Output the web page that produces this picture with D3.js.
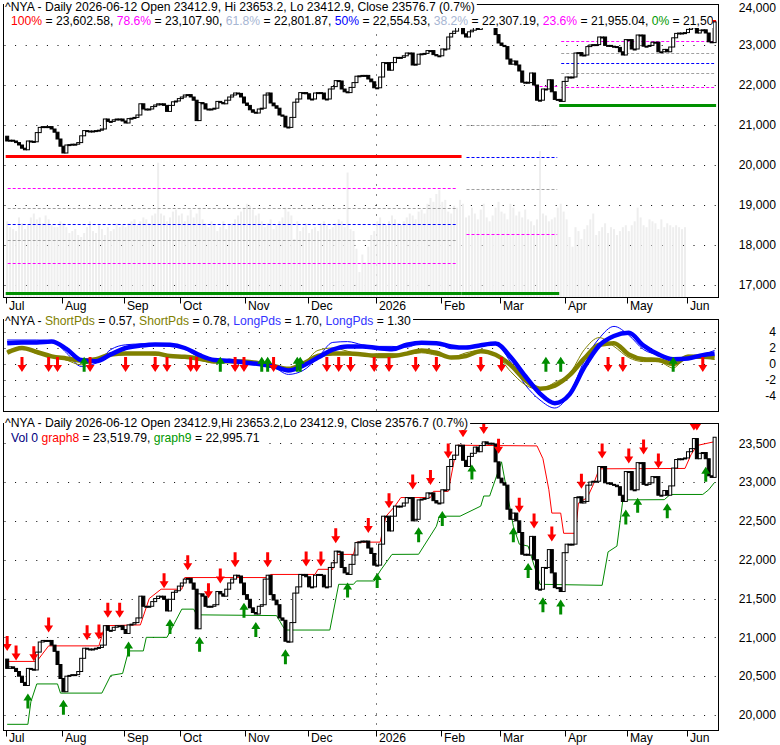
<!DOCTYPE html>
<html><head><meta charset="utf-8">
<script src="https://cdn.jsdelivr.net/npm/d3@7/dist/d3.min.js"></script>
<style>
body{margin:0;background:#fff;}
text{font-family:"Liberation Sans",Arial,sans-serif;}
</style>
</head><body>
<svg id="c" width="780" height="745" xmlns="http://www.w3.org/2000/svg"></svg>
<script>
// ---------------- DATA ----------------
const monthLabels = ["Jul","Aug","Sep","Oct","Nov","Dec","2026","Feb","Mar","Apr","May","Jun"];
const monthStarts = [0,19,40,59,81,102,125,147,167,189,210,230];
const firstOpen = 20720;
const closes = [
20600,20620,20600,20560,20500,20420,20380,20600,20590,20580,
20810,20940,20960,20960,20960,20900,20820,20650,20470,20300,
20500,20510,20520,20520,20560,20730,20860,20850,20840,20850,
20860,20870,20900,21150,21090,21090,21130,21150,21150,21100,
21050,21160,21170,21190,21250,21530,21400,21400,21400,21460,
21500,21530,21530,21490,21340,21490,21580,21600,21660,21700,
21750,21760,21700,21620,21110,21560,21530,21400,21400,21400,
21420,21590,21560,21530,21620,21700,21750,21800,21790,21700,
21550,21490,21380,21320,21300,21400,21420,21750,21800,21550,
21480,21420,21250,21220,20950,20940,21190,21570,21650,21810,
21810,21780,21650,21650,21800,21810,21800,21650,21650,21900,
21960,22110,22100,21900,21830,21810,21940,22060,22220,22230,
22240,22240,22150,22080,21930,21930,22200,22560,22560,22370,
22560,22690,22690,22690,22730,22800,22800,22500,22520,22770,
22780,22790,22860,22860,22760,22730,22730,22900,22900,23200,
23290,23346,23474,23474,23280,23200,23330,23370,23450,23390,
23470,23517,23490,23500,23490,23260,23050,22990,22960,22650,
22520,22600,22500,22350,22070,22070,22060,22300,22000,21620,
21620,21900,21900,22130,21830,21640,21640,21590,22090,22200,
22200,22200,22800,22810,22730,22750,22960,23000,23010,23010,
23200,23200,22990,22990,22970,22960,22940,22830,22750,23135,
23135,22900,22900,23250,23250,22970,22970,22990,23070,23070,
22830,22830,22890,22830,22950,23180,23290,23300,23300,23310,
23390,23430,23560,23300,23370,23380,23300,23080,23060,23576.7];
const volume = [
3.9,3.6,3.5,3.4,4.1,3.8,3.5,3.7,4.1,4.3,4.0,4.1,3.8,4.2,4.0,3.7,3.6,3.6,3.9,
3.8,3.6,3.3,3.4,3.5,3.2,3.1,3.3,3.6,3.9,3.4,3.3,3.7,3.5,3.2,3.6,3.4,3.5,3.8,3.6,3.7,
3.6,3.8,3.9,4.0,3.7,3.9,4.1,4.0,3.8,4.2,4.3,6.9,4.3,4.2,3.9,4.1,4.4,4.5,4.2,
4.3,3.9,4.2,4.5,4.1,4.3,4.6,4.0,3.8,3.6,3.9,3.7,3.4,3.6,3.9,3.5,3.7,3.8,4.0,4.2,4.4,
4.6,4.8,4.7,4.5,4.2,4.3,3.9,3.6,3.8,4.0,3.5,3.7,3.9,4.1,4.6,4.4,4.2,3.0,3.9,3.4,3.6,3.8,
3.3,3.5,3.6,3.4,3.8,3.9,3.7,3.5,3.6,3.8,4.0,3.9,3.6,6.4,3.5,3.4,2.5,1.3,2.2,1.8,2.6,3.2,3.4,
3.9,4.1,3.8,3.7,3.9,4.2,4.0,3.8,3.7,3.9,4.1,4.3,4.2,4.0,4.4,4.5,4.3,4.8,5.1,4.9,5.3,5.5,
4.9,5.0,4.4,4.3,4.7,4.6,5.0,4.8,4.1,4.2,4.6,4.3,4.0,4.5,4.8,4.1,3.9,4.2,4.6,4.9,
4.4,4.3,4.0,4.8,4.6,4.2,4.4,4.1,4.5,4.0,3.9,3.7,4.0,7.5,4.3,4.2,3.9,4.0,4.1,4.6,4.8,4.4,
4.0,3.1,2.6,3.6,3.4,3.0,3.5,3.7,4.0,4.3,3.2,3.4,3.6,3.8,3.3,3.6,3.5,3.2,3.4,3.6,3.7,
3.4,3.7,3.9,4.6,4.1,3.7,3.6,4.0,3.9,3.8,3.5,4.0,3.6,3.8,3.7,3.6,3.7,3.6,3.5,3.6,
0,0,0,0,0,0,0,0,0,0];

const oscIdx = [0,5,10,15,20,25,30,35,40,45,50,55,60,65,70,75,80,85,90,95,100,105,110,115,120,125,130,135,140,145,150,155,160,165,170,175,180,185,190,195,200,205,210,215,220,225,230,235,239];
const shortFast = [1.7,2.0,1.3,1.1,0.5,-0.1,0.6,1.3,1.4,1.3,1.1,1.0,0.8,0.5,0.1,0.6,0.3,-0.05,-0.5,-0.9,0.0,1.7,2.0,1.6,1.15,1.3,1.3,1.2,1.4,1.1,0.8,1.4,1.7,1.2,-0.9,-2.6,-3.2,-2.3,-1.2,1.8,3.3,2.2,0.8,0.3,0.3,-0.5,1.1,0.9,0.57];
const shortSlow = [1.4,2.0,1.5,0.95,0.7,0.45,0.6,1.2,1.3,1.3,1.3,1.0,0.9,0.65,0.35,0.35,0.3,0.1,-0.25,-0.6,0.05,1.0,1.3,1.3,1.2,1.0,1.0,1.3,1.7,1.4,0.8,1.0,1.6,1.15,-0.1,-2.0,-3.1,-2.7,-1.4,0.7,2.4,2.6,1.2,0.6,0.5,0.0,0.9,0.9,0.78];
const longFast = [3.0,3.0,3.0,2.9,1.4,-0.3,0.1,1.8,2.4,2.5,2.5,2.4,1.9,0.8,0.2,0.4,0.4,-0.1,-0.4,-1.3,-0.8,0.8,2.7,2.8,2.4,2.2,2.2,2.1,2.6,2.6,1.9,2.0,2.4,2.5,0.3,-2.6,-4.5,-5.5,-3.7,0.4,3.2,4.7,3.6,1.8,1.1,0.3,1.0,1.2,1.7];
const longSlow = [2.6,2.7,2.7,2.8,1.9,0.5,0.35,1.2,2.0,2.3,2.45,2.4,2.0,1.1,0.5,0.4,0.2,0.0,-0.3,-0.8,-0.2,0.8,1.8,2.2,2.2,2.0,1.85,2.4,2.65,2.6,2.2,2.05,2.35,2.55,0.9,-1.5,-3.7,-4.9,-3.8,-0.4,2.3,3.5,3.9,2.3,1.2,0.6,0.7,1.1,1.3];
const oscSellIdx = [5,14,17,28,40,50,54,62,64,77,80,90,108,112,116,124,129,138,145,160,167,203,208,235];
const oscBuyIdx = [26,72,86,88,98,99,182,187,225];

// graph8 (red) and graph9 (green) vertices: [bar index, value]
const graph8 = [[0,20690],[10,20690],[14,20890],[31,20890],[33,21150],[45,21160],[48,21500],[52,21620],[59,21620],[60,21770],[88,21770],[89,21810],[104,21810],[105,21876],[110,21876],[111,22068],[117,22068],[118,22226],[126,22226],[128,22560],[131,22690],[133,22800],[143,22800],[144,22880],[149,22880],[152,23474],[179,23465],[181,23300],[183,22900],[184,22600],[187,22600],[188,22340],[192,22340],[193,22730],[196,22800],[198,22965],[200,23170],[229,23175],[231,23350],[233,23470],[239,23519.79]];
const graph9 = [[0,19880],[7,19880],[8,20170],[10,20400],[17,20400],[18,20282],[32,20282],[35,20510],[39,20535],[41,20825],[46,20825],[47,21000],[54,21000],[59,21363],[63,21363],[64,21290],[91,21280],[93,21150],[94,21094],[109,21094],[112,21683],[117,21683],[118,21726],[124,21726],[126,21855],[130,22068],[139,22070],[145,22430],[146,22560],[153,22560],[160,22690],[161,22820],[163,22820],[167,23260],[171,22430],[173,22200],[176,22175],[180,21683],[201,21670],[203,22100],[206,22175],[208,22770],[222,22773],[224,22840],[235,22840],[237,22900],[239,22995.71]];
const sellIdx = [0,3,9,14,27,31,34,38,53,61,68,72,77,88,101,106,111,122,129,137,143,149,154,161,166,173,178,184,194,201,210,215,220,232,233];
const buyIdx = [7,19,41,55,65,80,84,94,115,125,139,147,157,171,176,181,187,209,213,223,236];

// Fibonacci retracement sets (100%,78.6%,61.8%,50%,38.2%,23.6%,0%)
const fibNames = ["100%","78.6%","61.8%","50%","38.2%","23.6%","0%"];
const fibA = [20225,19425,18925,18525,18125,17550,16800];
const fibB = [23600,21975,21000,20200,19400,18275,16800];
const fibC = [23602.58,23107.90,22801.87,22554.53,22307.19,21955.04,21501.74];
// bar-index spans of each set, per level
const fibSpansA = [[0,153],[0,152],[0,152],[0,152],[0,152],[0,152],[0,153]];
const fibSpansB = [[154,186],[178,186],[155,186],[155,186],[155,186],[155,186],[154,186]];
const fibSpansC = [[187,239],[187,239],[187,239],[187,239],[187,239],[187,239],[187,239]];

const topTicks = [24000,23000,22000,21000,20000,19000,18000,17000];
const oscTicks = [4,2,0,-2,-4];
const botTicks = [23500,23000,22500,22000,21500,21000,20500,20000];

// ---------------- LAYOUT ----------------
const svg = d3.select("#c");
const L = 3.5, R = 718.5;
const P1 = {top:4.5, bottom:297.5}, P2 = {top:319.5, bottom:411.5}, P3 = {top:423.5, bottom:730.5};
const FS_ = 12.15;
const x = d3.scaleLinear().domain([0,240]).range([5.7,716.1]);
const xc = i => x(i+0.5);
const yTop = d3.scaleLinear().domain([17000,24000]).range([285,5]);
const yVol = d3.scaleLinear().domain([0,15]).range([P1.bottom, P1.bottom-15*19.53]);
const yOsc = d3.scaleLinear().domain([-4,4]).range([396,332]);
const yBot = d3.scaleLinear().domain([20000,23500]).range([715,443.2]);
const fmt = d3.format(",");

const defs = svg.append("defs");
[P1,P2,P3].forEach((p,k)=>{
  defs.append("clipPath").attr("id","cp"+k).append("rect")
    .attr("x",L).attr("y",p.top).attr("width",R-L).attr("height",p.bottom-p.top);
});
const g1 = svg.append("g").attr("clip-path","url(#cp0)");
const g2 = svg.append("g").attr("clip-path","url(#cp1)");
const g3 = svg.append("g").attr("clip-path","url(#cp2)");

function hgrid(g, vals, scale){
  g.selectAll(null).data(vals).join("line")
    .attr("x1",L+1).attr("x2",R).attr("y1",d=>Math.round(scale(d))+0.5).attr("y2",d=>Math.round(scale(d))+0.5)
    .attr("stroke","#000").attr("stroke-width",1).attr("stroke-dasharray","1,9.6");
}
function yearLine(g, p){
  const xx = Math.round(x(monthStarts[6]))+0.5;
  g.append("line").attr("x1",xx).attr("x2",xx).attr("y1",p.top).attr("y2",p.bottom)
    .attr("stroke","#000").attr("stroke-dasharray","1,9");
}
const bars = closes.map((c,i)=>({i, o: i===0?firstOpen:closes[i-1], c}));
function candles(g, scale){
  g.selectAll(null).data(bars).join("rect")
    .attr("x",d=>xc(d.i)-1.5).attr("width",3)
    .attr("y",d=>scale(Math.max(d.o,d.c)))
    .attr("height",d=>Math.max(1, Math.abs(scale(d.o)-scale(d.c))))
    .attr("fill",d=>d.c>=d.o?"#fff":"#000").attr("stroke","#000").attr("stroke-width",1);
}
function arrow(cx, ty, down){
  const s = down?-1:1;
  return `M${cx-1.5},${ty+s*15}L${cx+1.5},${ty+s*15}L${cx+1.5},${ty+s*7}L${cx+4.5},${ty+s*7}L${cx},${ty}L${cx-4.5},${ty+s*7}L${cx-1.5},${ty+s*7}Z`;
}

// ---------- Panel 1: price + volume + fib ----------
hgrid(g1, topTicks.slice(1), yTop);
yearLine(g1, P1);
g1.selectAll(null).data(volume.map((v,i)=>({v,i})).filter(d=>d.v>0)).join("rect")
  .attr("x",d=>xc(d.i)-1).attr("width",2)
  .attr("y",d=>yVol(d.v)).attr("height",d=>P1.bottom-yVol(d.v))
  .attr("fill","#eeeeee");
const fibLineColors = ["#ff0000","#ff00ff","#a0a0a0","#0000ff","#a0a0a0","#ff00ff","#009000"];
[[fibA,fibSpansA],[fibB,fibSpansB],[fibC,fibSpansC]].forEach(([set,spans])=>{
  set.forEach((v,j)=>{
    const [a,b] = spans[j];
    const solid = (j===0||j===6);
    g1.append("line")
      .attr("x1",x(a)+(solid?0:2)).attr("x2",x(b+1)-(solid?0:2))
      .attr("y1",Math.round(yTop(v))+0.5).attr("y2",Math.round(yTop(v))+0.5)
      .attr("stroke",fibLineColors[j]).attr("stroke-width",solid?3:1)
      .attr("stroke-dasharray",solid?null:"3,2");
  });
});
candles(g1, yTop);

// ---------- Panel 2: oscillator ----------
hgrid(g2, oscTicks, yOsc);
yearLine(g2, P2);
const oscLine = (arr)=>d3.line().x((d,k)=>xc(oscIdx[k])).y(d=>yOsc(d)).curve(d3.curveMonotoneX)(arr);
g2.append("path").attr("d",oscLine(longFast)).attr("fill","none").attr("stroke","#0000ff").attr("stroke-width",1);
g2.append("path").attr("d",oscLine(shortFast)).attr("fill","none").attr("stroke","#808000").attr("stroke-width",1);
g2.append("path").attr("d",oscLine(shortSlow)).attr("fill","none").attr("stroke","#808000").attr("stroke-width",4.5);
g2.append("path").attr("d",oscLine(longSlow)).attr("fill","none").attr("stroke","#0000ff").attr("stroke-width",4.5);
g2.selectAll(null).data(oscSellIdx).join("path").attr("d",i=>arrow(xc(i), yOsc(-1), true)).attr("fill","#ff0000");
g2.selectAll(null).data(oscBuyIdx).join("path").attr("d",i=>arrow(xc(i), yOsc(0.9), false)).attr("fill","#008c00");

// ---------- Panel 3: price with graph8/graph9 ----------
hgrid(g3, botTicks, yBot);
yearLine(g3, P3);
const gl = d3.line().x(d=>xc(d[0])).y(d=>yBot(d[1]));
g3.append("path").attr("d",gl(graph8)).attr("fill","none").attr("stroke","#ff0000").attr("stroke-width",1);
g3.append("path").attr("d",gl(graph9)).attr("fill","none").attr("stroke","#008800").attr("stroke-width",1);
candles(g3, yBot);
g3.selectAll(null).data(sellIdx).join("path")
  .attr("d",i=>arrow(xc(i), yBot(Math.max(bars[i].o,bars[i].c))-8, true)).attr("fill","#ff0000");
g3.selectAll(null).data(buyIdx).join("path")
  .attr("d",i=>arrow(xc(i), yBot(Math.min(bars[i].o,bars[i].c))+8, false)).attr("fill","#008c00");

// ---------- frames ----------
[P1,P2,P3].forEach(p=>{
  svg.append("rect").attr("x",L).attr("y",p.top).attr("width",R-L).attr("height",p.bottom-p.top)
    .attr("fill","none").attr("stroke","#000").attr("stroke-width",1);
});

// ---------- axes ----------
function rightLabels(vals, scale, f){
  svg.append("g").selectAll(null).data(vals).join("text")
    .attr("x",776).attr("y",d=>Math.max(scale(d)+4.3, 11.5)).attr("text-anchor","end")
    .attr("font-size",FS_).attr("fill","#000").text(f);
}
rightLabels(topTicks, yTop, fmt);
rightLabels(oscTicks, yOsc, d=>String(d));
rightLabels(botTicks, yBot, fmt);
function monthAxis(p, base){
  const g = svg.append("g");
  monthStarts.forEach((ms,k)=>{
    const xx = Math.round(x(ms))+0.5;
    g.append("line").attr("x1",xx).attr("x2",xx).attr("y1",p.bottom).attr("y2",p.bottom+6).attr("stroke","#000");
    g.append("text").attr("x",xx+2.5).attr("y",base).attr("font-size",FS_).attr("fill","#000").text(monthLabels[k]);
  });
}
monthAxis(P1, 309.5);
monthAxis(P3, 741.5);

// ---------- headers ----------
function header(x0, base, segs, maxX){
  const g = svg.append("g");
  const bg = g.append("rect").attr("fill","#fff");
  const t = g.append("text").attr("x",x0).attr("y",base).attr("font-size",FS_);
  segs.forEach(s=>t.append("tspan").attr("fill",s[1]||"#000").text(s[0]));
  const bb = t.node().getBBox();
  let w = bb.width + 2;
  if (maxX && bb.x + w > maxX) {
    w = maxX - bb.x;
    const id = "hc"+Math.round(base);
    defs.append("clipPath").attr("id",id).append("rect").attr("x",bb.x-2).attr("y",bb.y).attr("width",w+2).attr("height",bb.height);
    t.attr("clip-path",`url(#${id})`);
  }
  bg.attr("x",bb.x-1).attr("y",bb.y).attr("width",w+1).attr("height",bb.height);
}
const K = "#000", FR = "#ff0000", FM = "#ff00ff", FS = "#a7b6d3", FB = "#0000ff", FG = "#009900";
header(5, 10.7, [["^NYA - Daily 2026-06-12 Open 23412.9, Hi 23653.2, Lo 23412.9, Close 23576.7 (0.7%)"]]);
const fibColors = [FR,FM,FS,FB,FS,FM,FG];
const fibSegs = [];
fibNames.forEach((n,j)=>{
  fibSegs.push([n, fibColors[j]]);
  fibSegs.push([" = "+d3.format(",.2f")(fibC[j])+(j<6?", ":""), K]);
});
header(11, 25, fibSegs, 713);
const OL = "#808000", BL = "#3333ff";
header(5, 325, [["^NYA - "],["ShortPds",OL],[" = 0.57, "],["ShortPds",OL],[" = 0.78, "],["LongPds",BL],[" = 1.70, "],["LongPds",BL],[" = 1.30"]]);
header(5, 427, [["^NYA - Daily 2026-06-12 Open 23412.9,Hi 23653.2,Lo 23412.9, Close 23576.7 (0.7%)"]]);
header(11, 442, [["Vol 0 ","#000080"],["graph8",FR],[" = 23,519.79, "],["graph9",FG],[" = 22,995.71"]]);
</script>
</body></html>
